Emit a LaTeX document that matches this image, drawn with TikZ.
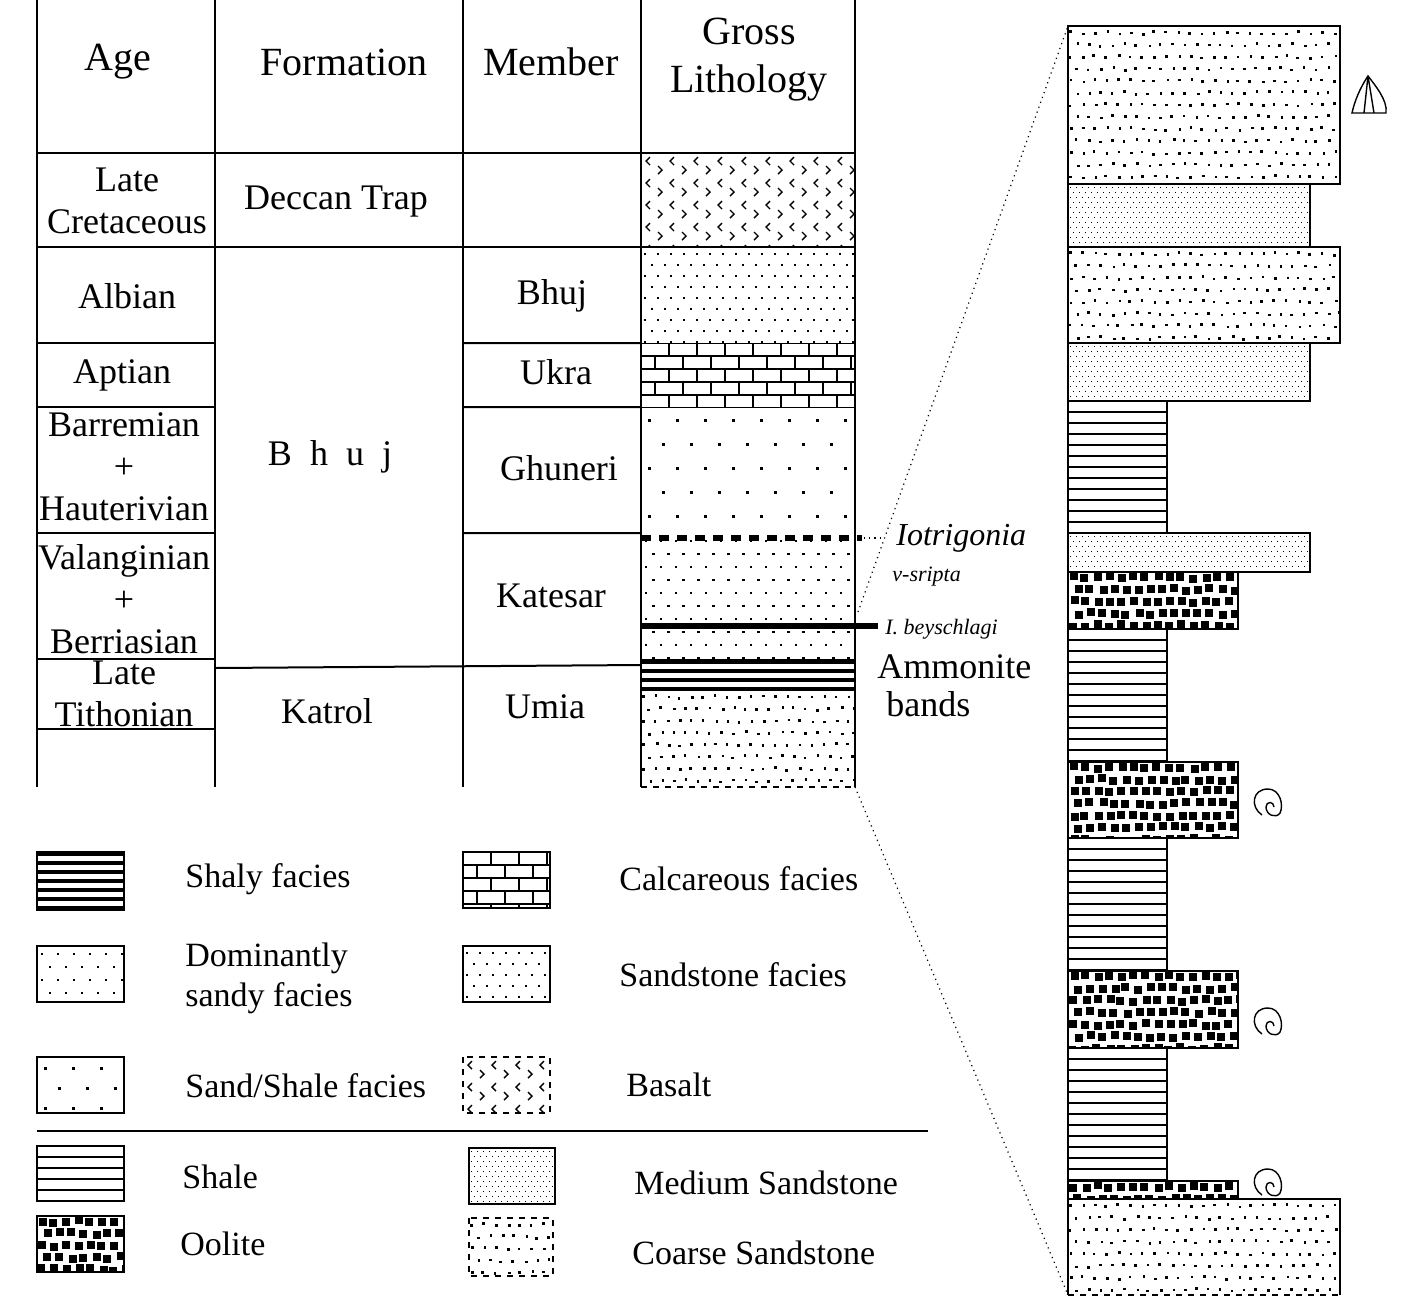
\documentclass[tikz,border=0pt]{standalone}
\usepackage{fontspec}
\setmainfont{Liberation Serif}
\begin{document}
\begin{tikzpicture}[x=0.5pt,y=-0.5pt,
  lbl/.style={font=\fontsize{18}{21}\selectfont,align=center,inner sep=0pt},
  hdr/.style={font=\fontsize{20}{24}\selectfont,align=center,inner sep=0pt},
  leg/.style={font=\fontsize{17}{20}\selectfont,align=left,anchor=west,inner sep=0pt},
  grid/.style={line width=1pt},
  box/.style={draw,line width=1pt},
  conn/.style={dotted,line width=0.6pt}]
\useasboundingbox (0,0) rectangle (1410,1303);
% ---------- pattern macros
\newcommand\patdots[7]{\begin{scope}\clip (#1,#2) rectangle (#3,#4);
 \pgfmathtruncatemacro\nnx{(#3-#1)/#5+1}\pgfmathtruncatemacro\nny{(#4-#2)/#6+1}
 \pgfmathsetmacro\hx{#5/2}\pgfmathsetmacro\qx{#5/4}\pgfmathsetmacro\hy{#6/2}
 \foreach \i in {0,...,\nnx}{\foreach \j in {0,...,\nny}{\fill ({#1+\i*#5+mod(\j,2)*\hx+\qx}, {#2+\j*#6+\hy}) rectangle ++(#7,#7);}}\end{scope}}
\newcommand\patcoarse[4]{\begin{scope}\clip (#1,#2) rectangle (#3,#4);
 \pgfmathtruncatemacro\nnx{(#3-#1)/12+1}\pgfmathtruncatemacro\nny{(#4-#2)/12+1}
 \foreach \i in {0,...,\nnx}{\foreach \j in {0,...,\nny}{\fill ({#1+\i*12+mod(\j,2)*6+3*rnd}, {#2+\j*12+4+3*rnd}) rectangle ++(2.6,2.6);}}\end{scope}}
\newcommand\patoolite[4]{\begin{scope}\clip (#1,#2) rectangle (#3,#4);
 \pgfmathtruncatemacro\nnx{(#3-#1)/12+1}\pgfmathtruncatemacro\nny{(#4-#2)/12+1}
 \foreach \i in {0,...,\nnx}{\foreach \j in {0,...,\nny}{\fill ({#1+\i*12+mod(\j,2)*5+3*rnd}, {#2+\j*12+3*rnd}) rectangle ++(8,8);}}\end{scope}}
\newcommand\patshale[5]{\begin{scope}\clip (#1,#2) rectangle (#3,#4);
 \pgfmathtruncatemacro\nny{(#4-#2)/#5+1}
 \foreach \j in {1,...,\nny}{\draw[line width=0.9pt] (#1,{#2+\j*#5}) -- (#3,{#2+\j*#5});}\end{scope}}
\newcommand\patshaly[4]{\begin{scope}\clip (#1,#2) rectangle (#3,#4);
 \pgfmathtruncatemacro\nny{(#4-#2)/9+1}
 \foreach \j in {0,...,\nny}{\draw[line width=2.2pt] (#1,{#2+\j*9+2}) -- (#3,{#2+\j*9+2});}\end{scope}}
\newcommand\patbrick[4]{\begin{scope}\clip (#1,#2) rectangle (#3,#4);
 \pgfmathtruncatemacro\nnx{(#3-#1)/28+1}\pgfmathtruncatemacro\nny{(#4-#2)/13+1}
 \foreach \j in {0,...,\nny}{\draw[line width=1.3pt] (#1,{#2+\j*13}) -- (#3,{#2+\j*13});
  \foreach \i in {0,...,\nnx}{\draw[line width=1.3pt] ({#1+\i*28+mod(\j,2)*14},{#2+\j*13}) -- ++(0,13);}}\end{scope}}
\newcommand\patbasalt[4]{\begin{scope}\clip (#1,#2) rectangle (#3,#4);
 \pgfmathtruncatemacro\nnx{(#3-#1)/24+1}\pgfmathtruncatemacro\nny{(#4-#2)/22+1}
 \foreach \i in {0,...,\nnx}{\foreach \j in {0,...,\nny}{
  \draw[line width=0.7pt] ({#1+\i*24+9},{#2+\j*22+4}) -- ++(-4,4) -- ++(4,4);
  \draw[line width=0.7pt] ({#1+\i*24+17},{#2+\j*22+13}) -- ++(4,4) -- ++(-4,4);}}\end{scope}}
% ---------- table grid
\draw[grid] (37,0) -- (37,787) (215,0) -- (215,787) (463,0) -- (463,787) (641,0) -- (641,787) (855,0) -- (855,787);
\draw[grid] (37,153) -- (855,153) (37,247) -- (855,247);
\draw[grid] (37,343) -- (215,343) (37,407) -- (215,407) (37,533) -- (215,533) (37,659) -- (215,659) (37,729) -- (215,729);
\draw[grid] (463,343) -- (641,343) (463,407) -- (641,407) (463,533) -- (641,533) (215,668) -- (641,665);
% lithology column
\patbasalt{641}{153}{855}{247}
\patdots{641}{247}{855}{343}{13}{11}{2}
\patbrick{641}{343}{855}{407}
\patdots{641}{407}{855}{533}{28}{24}{2.6}
\patdots{641}{533}{855}{660}{15}{13}{2.4}
\patshaly{641}{660}{855}{690}
\patcoarse{641}{690}{855}{787}
\draw[line width=1pt] (641,660) -- (855,660) (641,690) -- (855,690);
\draw[dashed,line width=0.6pt] (641,787) -- (855,787);
% header
\node[hdr] (hAge) at (118,62) {Age};
\node[hdr] (hForm) at (344,62) {Formation};
\node[hdr] (hMem) at (551,62) {Member};
\node[hdr] (hLith) at (749,60) {Gross\\Lithology};
% age
\node[lbl] (a1) at (127,201) {Late\\Cretaceous};
\node[lbl] (a2) at (127,296) {Albian};
\node[lbl] (a3) at (122,375) {Aptian};
\node[lbl] (a4) at (124,467) {Barremian\\+\\Hauterivian};
\node[lbl] (a5) at (124,599) {Valanginian\\+\\Berriasian};
\node[lbl] (a6) at (124,694) {Late\\Tithonian};
% formation
\node[lbl] (f1) at (336,202) {Deccan Trap};
\node[lbl] (f2) at (330,457) {B\ \ h\ \ u\ \ j};
\node[lbl] (f3) at (327,711) {Katrol};
% member
\node[lbl] (m1) at (552,296) {Bhuj};
\node[lbl] (m2) at (556,372) {Ukra};
\node[lbl] (m3) at (559,468) {Ghuneri};
\node[lbl] (m4) at (551,596) {Katesar};
\node[lbl] (m5) at (545,707) {Umia};
% marker beds
\draw[line width=2.6pt,dash pattern=on 5pt off 4pt] (641,538) -- (862,538);
\draw[dotted,line width=0.6pt] (864,538) -- (884,538);
\draw[line width=3pt] (641,626) -- (878,626);
\node[font=\fontsize{16}{19}\selectfont\itshape,anchor=west,inner sep=0pt] (t1) at (896,538) {Iotrigonia};
\node[font=\fontsize{11}{13}\selectfont\itshape,anchor=west,inner sep=0pt] (t2) at (892,577) {v-sripta};
\node[font=\fontsize{11}{13}\selectfont\itshape,anchor=west,inner sep=0pt] (t3) at (885,629) {I. beyschlagi};
\node[lbl,align=left,anchor=west] (t4) at (877,686) {Ammonite\\[-2pt]\ bands};
% ---------- right column
\patcoarse{1068}{26}{1340}{184}   \draw[box] (1068,26) rectangle (1340,184);
\patdots{1068}{184}{1310}{247}{6}{5}{1.8} \draw[box] (1068,184) rectangle (1310,247);
\patcoarse{1068}{247}{1340}{343}  \draw[box] (1068,247) rectangle (1340,343);
\patdots{1068}{343}{1310}{401}{6}{5}{1.8} \draw[box] (1068,343) rectangle (1310,401);
\patshale{1068}{401}{1167}{533}{11} \draw[box] (1068,401) rectangle (1167,533);
\patdots{1068}{533}{1310}{572}{6}{5}{1.8} \draw[box] (1068,533) rectangle (1310,572);
\patoolite{1068}{572}{1238}{629}  \draw[box] (1068,572) rectangle (1238,629);
\patshale{1068}{629}{1167}{762}{11} \draw[box] (1068,629) rectangle (1167,762);
\patoolite{1068}{762}{1238}{838}  \draw[box] (1068,762) rectangle (1238,838);
\patshale{1068}{838}{1167}{971}{11} \draw[box] (1068,838) rectangle (1167,971);
\patoolite{1068}{971}{1238}{1048} \draw[box] (1068,971) rectangle (1238,1048);
\patshale{1068}{1048}{1167}{1181}{11} \draw[box] (1068,1048) rectangle (1167,1181);
\patoolite{1068}{1181}{1238}{1199} \draw[box] (1068,1181) rectangle (1238,1199);
\patcoarse{1068}{1199}{1340}{1295} \draw[box] (1068,1295) -- (1068,1199) -- (1340,1199) -- (1340,1295);
\draw[dashed,line width=0.6pt] (1068,1295) -- (1340,1295);
% connectors
\coordinate (zt) at (1068,26); \coordinate (zb) at (1068,1295);
\coordinate (ct) at (858,612); \coordinate (cb) at (855,787);
\draw[conn] (ct) -- (zt); \draw[conn] (cb) -- (zb);
% fossils
\foreach \yy in {803,1022,1183}{
 \draw[line width=0.7pt] (1262,{\yy+12}) .. controls (1250,{\yy+4}) and (1252,{\yy-14}) .. (1268,{\yy-14})
   .. controls (1280,{\yy-14}) and (1284,{\yy+2}) .. (1280,{\yy+10}) .. controls (1276,{\yy+16}) and (1266,{\yy+12}) .. (1266,{\yy+4})
   .. controls (1266,{\yy-2}) and (1274,{\yy-2}) .. (1274,{\yy+4});}
\draw[line width=0.7pt] (1352,113) .. controls (1356,95) and (1364,82) .. (1368,76) .. controls (1374,84) and (1388,100) .. (1386,113) -- cycle;
\draw[line width=0.7pt] (1368,76) -- (1364,113) (1368,76) -- (1374,113);
% ---------- legend
\patshaly{37}{852}{124}{910} \draw[box] (37,852) rectangle (124,910);
\patdots{37}{946}{124}{1002}{16}{13}{2.4} \draw[box] (37,946) rectangle (124,1002);
\patdots{37}{1057}{124}{1113}{28}{20}{2.6} \draw[box] (37,1057) rectangle (124,1113);
\patbrick{463}{852}{550}{908} \draw[box] (463,852) rectangle (550,908);
\patdots{463}{946}{550}{1002}{13}{11}{2} \draw[box] (463,946) rectangle (550,1002);
\patbasalt{463}{1057}{550}{1113} \draw[box,dashed] (463,1057) rectangle (550,1113);
\draw[line width=1pt] (37,1131) -- (928,1131);
\patshale{37}{1146}{124}{1201}{11} \draw[box] (37,1146) rectangle (124,1201);
\patoolite{37}{1216}{124}{1272} \draw[box] (37,1216) rectangle (124,1272);
\patdots{469}{1148}{555}{1204}{6}{5}{1.8} \draw[box] (469,1148) rectangle (555,1204);
\patcoarse{469}{1218}{553}{1276} \draw[box,dashed] (469,1218) rectangle (553,1276);
\node[leg] (l1) at (185,879) {Shaly facies};
\node[leg] (l2) at (185,978) {Dominantly\\sandy facies};
\node[leg] (l3) at (185,1086) {Sand/Shale facies};
\node[leg] (l4) at (619,879) {Calcareous facies};
\node[leg] (l5) at (619,975) {Sandstone facies};
\node[leg] (l6) at (626,1085) {Basalt};
\node[leg] (l7) at (182,1177) {Shale};
\node[leg] (l8) at (180,1244) {Oolite};
\node[leg] (l9) at (634,1183) {Medium Sandstone};
\node[leg] (l10) at (632,1253) {Coarse Sandstone};
\end{tikzpicture}
\end{document}
